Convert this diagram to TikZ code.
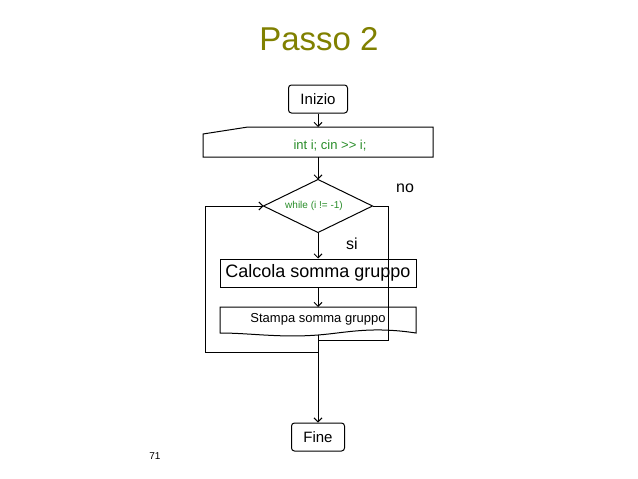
\documentclass[tikz,border=0pt]{standalone}
\usepackage{fontspec}
\setmainfont{Liberation Sans}
\usetikzlibrary{shapes.geometric,arrows.meta}
\definecolor{olivet}{RGB}{128,128,0}
\definecolor{codegreen}{RGB}{40,140,40}
\begin{document}
\begin{tikzpicture}[x=1pt,y=-1pt,line width=1pt,
  box/.style={draw,inner sep=0,anchor=center},
  arr/.style={draw,-{Straight Barb[length=4pt,width=8pt]}}]
\useasboundingbox (0,0) rectangle (638,479);
\node[olivet,font=\fontsize{33}{35}\selectfont] (title) at (319,39) {Passo 2};
\node[box,rounded corners=3pt,minimum width=59pt,minimum height=28pt,font=\fontsize{15}{17}\selectfont] (ini) at (318,99) {Inizio};
\draw (203,134) -- (248,127) -- (433,127) -- (433,157) -- (203,157) -- cycle;
\node[codegreen,font=\fontsize{13}{15}\selectfont] (inp) at (330,146) {int i; cin {>}{>} i;};
\coordinate (inpN) at (318,127);
\coordinate (inpS) at (318,157);
\node[diamond,inner sep=0,aspect=2.08,minimum width=108pt,minimum height=52pt] (dia) at (318,206) {};
\draw (dia.north) -- (dia.east) -- (dia.south) -- (dia.west) -- cycle;
\node[codegreen,font=\fontsize{10}{12}\selectfont] (diat) at (314,206) {while (i != -1)};
\node[box,minimum width=196pt,minimum height=28pt,font=\fontsize{18}{20}\selectfont] (calc) at (318,273) {Calcola somma gruppo};
\draw (220,307) -- (416,307) -- (416,333) .. controls (370,326) and (345,333) .. (318,335) .. controls (280,338) and (250,333) .. (220,333) -- cycle;
\node[font=\fontsize{13}{15}\selectfont] (stampa) at (318,319) {Stampa somma gruppo};
\coordinate (stS) at (318,335);
\node[box,rounded corners=3pt,minimum width=53pt,minimum height=28pt,font=\fontsize{15}{17}\selectfont] (fine) at (318,437) {Fine};
\node[font=\fontsize{16}{18}\selectfont] (no) at (405,188) {no};
\node[font=\fontsize{16}{18}\selectfont] (si) at (352,244) {si};
\node[font=\fontsize{10}{12}\selectfont] (num) at (155,456) {71};
\path[arr] (ini.south) -- (inpN);
\path[arr] (inpS) -- (dia.north);
\path[arr] (dia.south) -- (calc.north);
\path[arr] (calc.south) -- (318,307);
\path[arr] (dia.east) -- (388,206) -- (388,340) -- (318,340) -- (fine.north);
\path[arr] (stS) -- (318,352) -- (205,352) -- (205,206) -- (dia.west);
\end{tikzpicture}
\end{document}
